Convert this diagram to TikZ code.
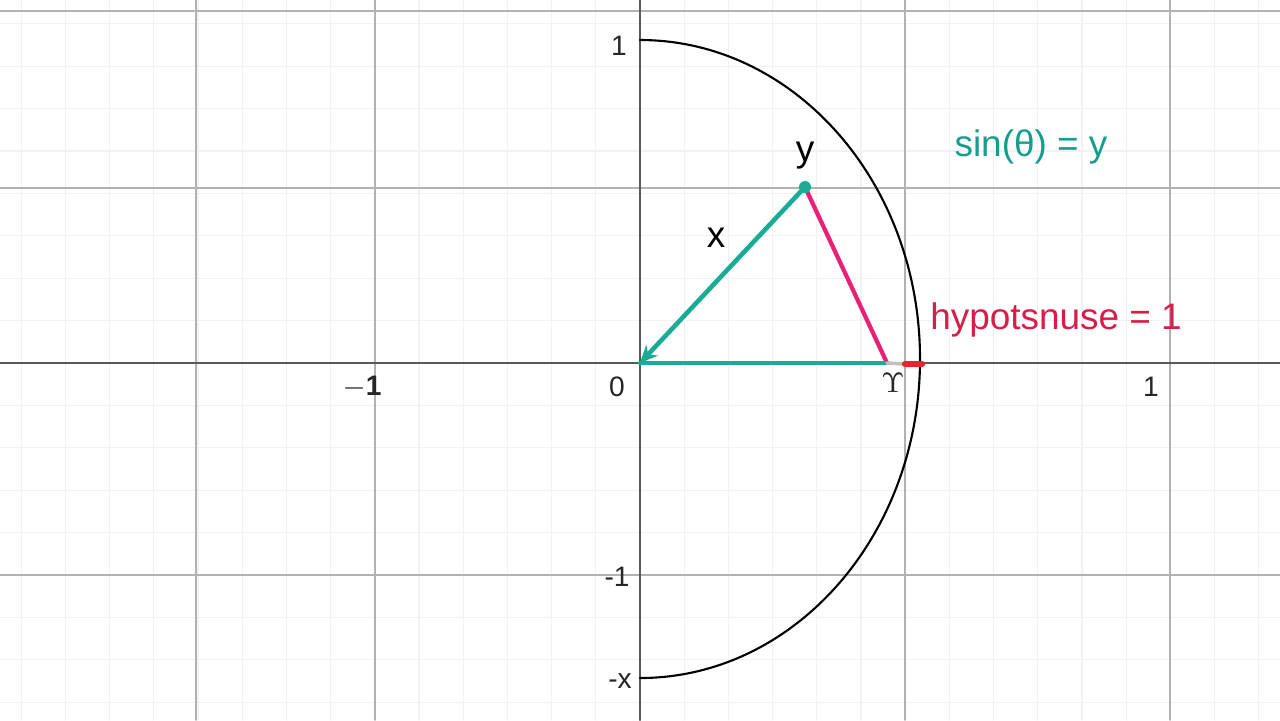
\documentclass[tikz,border=0pt]{standalone}
\usepackage{fontspec}
\setmainfont{Liberation Sans}
\usetikzlibrary{arrows.meta}
\definecolor{legteal}{RGB}{24,172,150}
\definecolor{txtteal}{RGB}{22,158,140}
\definecolor{hyppink}{RGB}{232,32,118}
\definecolor{hypred}{RGB}{214,30,72}
\definecolor{tickred}{RGB}{232,36,44}

\begin{document}
\begin{tikzpicture}[x=0.01cm, y=-0.01cm, line cap=round,
    minorgrid/.style={draw=black!5, line width=0.3pt},
    majorgrid/.style={draw=black!30, line width=0.45pt},
    axisline/.style={draw=black!65, line width=0.6pt},
    leg/.style={draw=legteal, line width=1.3pt},
    ticklabel/.style={font=\fontsize{8}{9}\selectfont, text=black!85},
    bigtext/.style={font=\fontsize{10.5}{12}\selectfont}]
  \useasboundingbox (0,0) rectangle (1280,720);
  \fill[white] (0,0) rectangle (1280,720);
  % grid
  \foreach \i in {-15,...,15}
    \draw[minorgrid] ({640+44.2*\i},0) -- ++(0,720);
  \foreach \j in {-9,...,9}
    \draw[minorgrid] (0,{363+42.4*\j}) -- ++(1280,0);
  \foreach \gx in {196,375,905,1170}
    \draw[majorgrid] (\gx,0) -- ++(0,720);
  \foreach \gy in {11,188,575}
    \draw[majorgrid] (0,\gy) -- ++(1280,0);
  \draw[axisline] (0,363) -- (1280,363);
  \draw[axisline] (640,0) -- (640,720);
  % unit circle
  \coordinate (top) at (640,40);
  \draw[black, line width=0.6pt] (top) arc[start angle=-90, end angle=90, x radius=280, y radius=319];
  % triangle
  \coordinate (O) at (640,363);
  \coordinate (P) at (805,187);
  \coordinate (Q) at (887,363);
  \coordinate (R) at (905,364);
  \coordinate (S) at (922,364);
  \draw[hyppink, line width=1.2pt] (P) -- (Q);
  \draw[leg] (O) -- (Q);
  \draw[leg, -{Stealth[length=5pt, width=4.5pt]}] (P) -- (O);
  \fill[legteal] (P) circle (6);
  \draw[black!25, line width=1pt] (Q) -- (R);
  \draw[tickred, line width=1.8pt] (R) -- (S);
  % labels
  \node[bigtext] (ylab) at (805,156) {y};
  \node[bigtext] (xlab) at (716,238) {x};
  \node[bigtext, text=txtteal] (sinlab) at (1031,147) {sin(θ) = y};
  \node[bigtext, text=hypred] (hyplab) at (1056,320) {hypotsnuse = 1};
  \node[ticklabel] (t1) at (619,46) {1};
  \node[ticklabel] (t0) at (617,387) {0};
  \node[ticklabel] (tm1) at (617,577) {-1};
  \node[ticklabel] (tmx) at (620,681) {-x};
  \node[ticklabel] (tl) at (362,387) {$-\mathbf{1}$};
  \node[ticklabel] (tr) at (1151,387) {1};
  \node[ticklabel] (tq) at (893,383) {$\Upsilon$};
\end{tikzpicture}
\end{document}
